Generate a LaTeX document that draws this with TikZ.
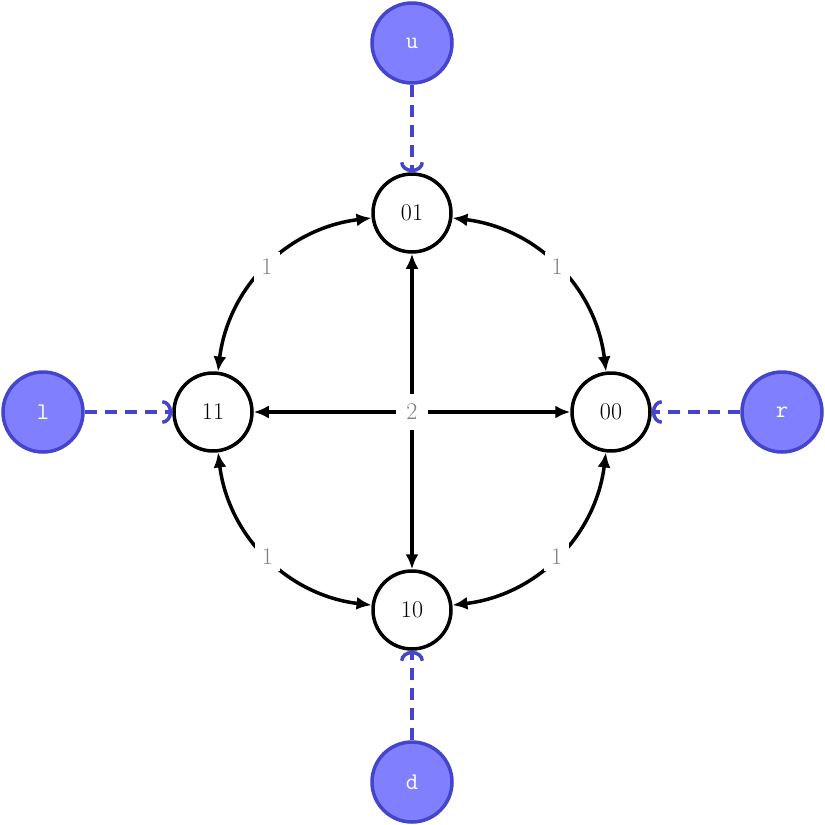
\documentclass[tikz,border=0pt]{standalone}
\usepackage{fontspec}
\usetikzlibrary{arrows.meta}
\definecolor{bfill}{RGB}{128,128,255}
\definecolor{bline}{RGB}{68,68,204}
\begin{document}
\begin{tikzpicture}[x=1pt,y=-1pt,>={Latex[length=15pt,width=13pt]},
  st/.style={circle,draw=black,line width=3.5pt,fill=white,minimum size=78pt,inner sep=0pt,font=\fontsize{24}{28}\selectfont},
  ext/.style={circle,draw=bline,line width=3.5pt,fill=bfill,minimum size=80pt,inner sep=0pt,text=white,font=\fontsize{24}{28}\selectfont\ttfamily},
  ar/.style={line width=3.5pt,->},
  dar/.style={line width=3.5pt,draw=bline,dash pattern=on 12pt off 8pt,-{Arc Barb[length=10pt,width=24pt,line width=3.5pt]}},
  lab/.style={fill=white,text=gray,inner sep=7pt,font=\fontsize{24}{28}\selectfont}]
\useasboundingbox (0,0) rectangle (825,825);
\node[st] (n01) at (412,213) {01};
\node[st] (n00) at (611,412) {00};
\node[st] (n10) at (412,610) {10};
\node[st] (n11) at (213,412) {11};
\node[ext] (u) at (412,43) {u};
\node[ext] (r) at (782,412) {r};
\node[ext] (d) at (412,782) {d};
\node[ext] (l) at (43,412) {l};
\node[lab,inner sep=10pt] (c) at (412,412) {2};
\draw[ar] (c) -- (n01);
\draw[ar] (c) -- (n00);
\draw[ar] (c) -- (n10);
\draw[ar] (c) -- (n11);
\draw[line width=3.5pt,<->] (n11) to[bend left=38] node[lab] {1} (n01);
\draw[line width=3.5pt,<->] (n01) to[bend left=38] node[lab] {1} (n00);
\draw[line width=3.5pt,<->] (n00) to[bend left=38] node[lab] {1} (n10);
\draw[line width=3.5pt,<->] (n10) to[bend left=38] node[lab] {1} (n11);
\draw[dar] (u) -- (n01);
\draw[dar] (r) -- (n00);
\draw[dar] (d) -- (n10);
\draw[dar] (l) -- (n11);
\end{tikzpicture}
\end{document}
